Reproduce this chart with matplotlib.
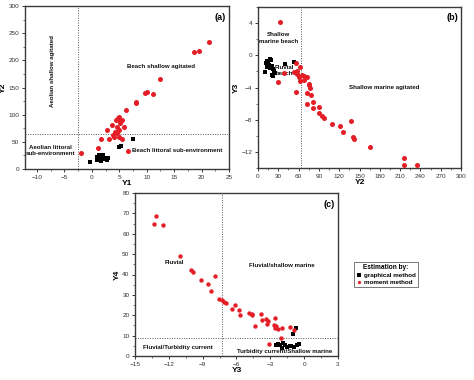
import matplotlib
matplotlib.use("Agg")
import matplotlib.pyplot as plt
from matplotlib.ticker import AutoMinorLocator, MultipleLocator

plt.rcParams["font.family"] = ["Liberation Sans", "DejaVu Sans"]

# ---------------- data ----------------
# Panel (a): Y1 vs Y2
a_mom_y1 = [-1.95, 1.1, 1.7, 2.8, 3.1, 3.65, 4.4, 4.7, 5.0, 5.5, 4.6, 4.3, 4.9, 5.2, 5.8,
            4.0, 4.9, 5.5, 6.2, 8.0, 8.0, 9.6, 10.0, 11.1, 12.35, 18.55, 19.5, 21.4, 6.6,
            3.9, 4.5, 5.1]
a_mom_y2 = [28.8, 39, 56, 72, 54.5, 81, 90, 93, 96, 91, 78, 69, 72, 84, 78,
            59, 59, 56, 108, 124, 121, 139, 142, 138, 165, 216, 217, 234, 33,
            63, 66, 88]
a_gra_y1 = [-0.3, 0.9, 1.2, 1.5, 1.8, 2.1, 2.4, 2.7, 1.0, 1.6, 2.0, 2.9, 1.3, 2.2, 4.9, 5.3, 7.5]
a_gra_y2 = [12, 22.6, 19, 24, 18, 26, 21, 17, 16, 15, 23, 20, 25, 19, 41, 43, 54.5]

# Panel (b): Y2 vs Y3
b_mom_y2 = [32, 29, 39, 56.6, 62.5, 53.6, 57.6, 60, 62.5, 55.6, 65, 67.4, 72, 68, 74.8,
            77, 73, 79, 72.3, 82, 81, 89.5, 90.5, 94.4, 98, 109, 121.5, 125.4, 138,
            139.7, 142.6, 164.8, 216.4, 216.4, 234.6, 58, 76]
b_mom_y3 = [4.1, -3.3, -2.2, -0.9, -1.4, -2.1, -2.3, -2.7, -3.2, -4.5, -2.5, -2.6, -2.7, -3.1,
            -3.7, -4.1, -4.7, -4.9, -6.0, -5.8, -6.6, -6.4, -7.2, -7.5, -7.8, -8.5, -8.8,
            -9.5, -8.2, -10.2, -10.4, -11.4, -12.8, -13.6, -13.6, -2.0, -3.6]
b_gra_y2 = [12.3, 14, 16, 18, 11, 20.7, 22, 24, 20, 17, 15, 25, 19, 40, 52.6, 22, 14]
b_gra_y3 = [-0.9, -0.7, -1.2, -0.4, -2.1, -2.4, -1.7, -2.0, -1.3, -1.6, -1.1, -2.2, -0.6, -1.05, -0.8, -2.6, -1.5]

# Panel (c): Y3 vs Y4
c_mom_y3 = [-13.17, -13.3, -12.5, -11.0, -10.07, -9.9, -9.16, -8.5, -8.27, -7.95, -7.54, -7.3,
            -7.1, -6.9, -6.4, -6.15, -5.77, -5.65, -4.9, -4.65, -4.35, -3.8, -3.7, -3.4, -3.2,
            -3.26, -2.58, -2.67, -2.58, -2.3, -1.96, -2.08, -3.14, -1.3, -0.9, -2.5, -4.6]
c_mom_y4 = [68.5, 64.7, 64.4, 49.1, 42.2, 41.4, 37.1, 35.1, 31.9, 39.2, 28.2, 27.4,
            26.6, 25.8, 23, 25, 22.5, 20, 21.2, 20, 14.9, 20.5, 17.9, 18.4, 17.1,
            15.9, 18.7, 15.1, 13.8, 13.1, 13.5, 8.9, 5.7, 14.4, 12.6, 14.6, 20.4]
c_gra_y3 = [-0.7, -1.0, -2.5, -2.1, -1.7, -1.2, -0.6, -1.5, -2.3, -0.9, -1.9, -0.5, -1.3, -2.0]
c_gra_y4 = [13.8, 10.7, 5.4, 5.6, 5.2, 4.7, 5.3, 4.2, 6.0, 4.6, 6.4, 5.7, 5.0, 4.0]

RED = "#e41e26"

fig = plt.figure(figsize=(4.74, 3.80), dpi=100)

def style(ax, xlabel, ylabel):
    for s in ax.spines.values():
        s.set_linewidth(1.0)
        s.set_color("#3a3a3a")
    ax.tick_params(which="major", labelsize=4.6, length=2.5, width=0.7, colors="#3a3a3a",
                   labelcolor="#333333", pad=1.5)
    ax.tick_params(which="minor", length=1.5, width=0.5, colors="#3a3a3a")
    ax.xaxis.set_minor_locator(AutoMinorLocator(2))
    ax.yaxis.set_minor_locator(AutoMinorLocator(2))
    ax.set_xlabel(xlabel, fontsize=6, fontweight="bold", labelpad=0.5)
    ax.set_ylabel(ylabel, fontsize=6, fontweight="bold", labelpad=1)

def scat(ax, x1, y1, x2, y2, s_circ=13, s_sq=12):
    g = ax.scatter(x1, y1, marker="s", s=s_sq, color="black", linewidths=0, zorder=3,
                   label="graphical method")
    m = ax.scatter(x2, y2, marker="o", s=s_circ, color=RED, linewidths=0, zorder=4,
                   label="moment method")
    return g, m

tkw = dict(fontsize=4.4, fontweight="bold", color="#111111")
dot = dict(color="#555555", lw=0.7, ls=(0, (1, 1.5)), zorder=1)

# ----- (a) -----
ax = fig.add_axes([25/474, (380-169)/380, 204/474, 163/380])
scat(ax, a_gra_y1, a_gra_y2, a_mom_y1, a_mom_y2)
ax.set_xlim(-12.2, 25)
ax.set_ylim(0, 300)
ax.xaxis.set_major_locator(MultipleLocator(5))
ax.yaxis.set_major_locator(MultipleLocator(50))
ax.axvline(-2.5, **dot)
ax.axhline(65, **dot)
style(ax, "Y1", "Y2")
ax.text(0.985, 0.96, "(a)", transform=ax.transAxes, ha="right", va="top", fontsize=6.5, fontweight="bold")
ax.text(-7.2, 180, "Aeolian shallow agitated", rotation=90, ha="center", va="center", **tkw)
ax.text(12.6, 189, "Beach shallow agitated", ha="center", va="center", **tkw)
ax.text(-7.6, 34, "Aeolian littoral\nsub-environment", ha="center", va="center",
        linespacing=1.3, **tkw)
ax.text(7.4, 34, "Beach littoral sub-environment", ha="left", va="center", **tkw)

# ----- (b) -----
ax = fig.add_axes([258/474, (380-168)/380, 203/474, 161/380])
scat(ax, b_gra_y2, b_gra_y3, b_mom_y2, b_mom_y3)
ax.set_xlim(0, 300)
ax.set_ylim(-14, 6)
ax.xaxis.set_major_locator(MultipleLocator(30))
ax.set_yticks([-12, -8, -4, 0, 4])
ax.axvline(63, **dot)
style(ax, "Y2", "Y3")
ax.text(0.985, 0.96, "(b)", transform=ax.transAxes, ha="right", va="top", fontsize=6.5, fontweight="bold")
ax.text(30, 2.15, "Shallow\nmarine beach", ha="center", va="center", linespacing=1.4, **tkw)
ax.text(39, -1.9, "Fluvial\nbeach", ha="center", va="center", linespacing=1.2, **tkw)
ax.text(186, -4.0, "Shallow marine agitated", ha="center", va="center", **tkw)

# ----- (c) -----
ax = fig.add_axes([135/474, 24/380, 203/474, 163/380])
g, m = scat(ax, c_gra_y3, c_gra_y4, c_mom_y3, c_mom_y4, s_circ=10, s_sq=12)
ax.set_xlim(-15, 3)
ax.set_ylim(0, 80)
ax.xaxis.set_major_locator(MultipleLocator(3))
ax.yaxis.set_major_locator(MultipleLocator(10))
ax.axvline(-7.3, **dot)
ax.axhline(8.6, **dot)
style(ax, "Y3", "Y4")
ax.text(0.985, 0.96, "(c)", transform=ax.transAxes, ha="right", va="top", fontsize=6.5, fontweight="bold")
ax.text(-11.5, 45.8, "Fluvial", ha="center", va="center", **tkw)
ax.text(-2.0, 44.2, "Fluvial/shallow marine", ha="center", va="center", **tkw)
ax.text(-11.2, 4.1, "Fluvial/Turbidity current", ha="center", va="center", **tkw)
ax.text(-1.7, 2.3, "Turbidity current/Shallow marine", ha="center", va="center", **tkw)

leg = fig.legend(handles=[g, m], loc="center", bbox_to_anchor=(386/474, (380-274.5)/380),
                 title="Estimation by:", fontsize=4.5, title_fontsize=4.7,
                 frameon=True, fancybox=False, edgecolor="#3a3a3a", handletextpad=0.3,
                 handlelength=0.8, borderpad=0.45, labelspacing=0.2, markerscale=0.75)
leg.get_frame().set_linewidth(0.6)
leg.get_title().set_fontweight("bold")
for t in leg.get_texts():
    t.set_fontweight("bold")

fig.savefig("out.png", dpi=100)
